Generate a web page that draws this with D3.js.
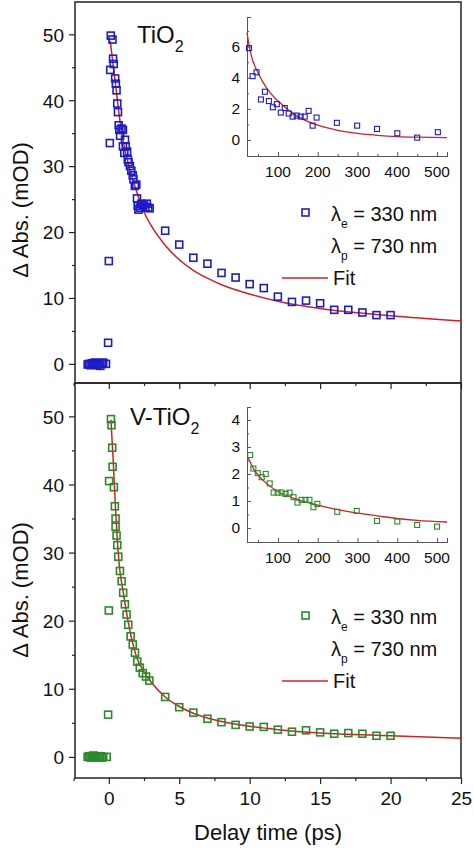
<!DOCTYPE html>
<html>
<head>
<meta charset="utf-8">
<script src="https://cdn.jsdelivr.net/npm/d3@7"></script>
<style>
  body { margin: 0; background: #fff; }
  text { font-family: "Liberation Sans", Arial, sans-serif; fill: #111; }
</style>
</head>
<body>
<div id="chart"></div>
<script>
// ---- data ----
const tioX = [-1.5,-1.4,-1.3,-1.2,-1.1,-1.0,-0.9,-0.8,-0.7,-0.6,-0.5,-0.4,-0.2,-0.05,0,0.07,0.1,0.14,0.26,0.3,0.35,0.45,0.5,0.55,0.6,0.65,0.7,0.75,0.8,0.9,1.0,1.0,1.1,1.15,1.2,1.3,1.35,1.4,1.5,1.6,1.7,1.75,1.85,1.95,2.0,2.05,2.1,2.2,2.3,2.4,2.5,2.6,2.7,2.8,2.9,4,5,6,7,8,9,10,11,12,13,14,15,16,17,18,19,20];
const tioY = [-0.1,0,-0.2,0.1,-0.1,0.2,0,-0.2,0.1,-0.3,0,0.2,0,3.2,15.6,33.5,44.6,49.8,49.2,46.3,45.5,43.3,42.5,41.5,39.5,38.2,36.2,35.5,34.6,35.7,35.5,33.0,32,34,33,32.2,31,30.6,30,29.3,28.6,28,27,27.2,25.1,24,23.4,23.7,24.3,24.0,24.2,23.8,24.3,23.7,23.6,20.2,18.1,16.1,15.2,13.8,13.1,12.1,11.5,10.2,9.4,9.6,9.2,8.2,8.2,7.8,7.4,7.4];
const tioFitX = [0.1,0.3,0.5,0.75,1,1.5,2,2.5,3,4,5,6,7,8,10,12,15,20,25];
const tioFitY = [49,45.5,42,37.5,34,29.5,26,23,21,18,15.8,14.2,13,12,10.6,9.5,8.4,7.3,6.5];

const tioInX = [27,36,46,57,67,77,87,97,107,117,127,137,147,157,167,177,187,197,248,299,349,400,450,502];
const tioInY = [5.9,4.1,4.35,2.6,3.1,2.5,2.1,2.3,1.76,2.05,1.7,1.5,1.57,1.5,1.5,1.87,0.92,1.44,1.1,0.92,0.71,0.43,0.15,0.5];
const tioInFitX = [22,30,50,75,100,150,200,250,300,350,400,450,525];
const tioInFitY = [6.9,5.7,4.3,3.2,2.5,1.5,0.95,0.62,0.42,0.3,0.22,0.18,0.15];

const vX = [-1.5,-1.4,-1.3,-1.2,-1.1,-1.0,-0.9,-0.8,-0.7,-0.6,-0.5,-0.4,-0.15,-0.05,0,0.02,0.15,0.19,0.24,0.27,0.36,0.43,0.48,0.48,0.55,0.6,0.67,0.79,0.91,1.02,1.14,1.26,1.38,1.55,1.7,1.86,2.02,2.2,2.4,2.64,2.88,4,5,6,7,8,9,10,11,12,13,14,15,16,17,18,19,20];
const vY = [0,0.1,-0.1,0,0.2,0,-0.1,0.1,0,0.1,-0.1,0,0,6.2,21.5,40.5,49.6,48.7,45.4,42.6,39.6,36.8,35,33.8,32.5,31.1,29.4,27.3,25.8,24.1,22.4,20.9,19.4,17.7,16.5,15.3,14,13.1,12.3,11.8,11.2,8.8,7.3,6.5,5.6,5.1,4.7,4.46,4.4,4.0,3.7,3.9,3.6,3.4,3.5,3.4,3.1,3.1];
const vFitX = [0.15,0.3,0.5,0.75,1,1.5,2,2.5,3,4,5,6,7,8,10,12,15,20,25];
const vFitY = [49.5,44,35.5,28,24.5,18.5,14.5,12.5,11,8.8,7.4,6.4,5.7,5.2,4.5,4.0,3.5,3.1,2.75];

const vInX = [30,38,49,59,69,79,89,99,109,119,129,139,149,159,169,179,189,199,249,298,349,400,450,500];
const vInY = [2.7,2.2,2.03,1.88,2.0,1.65,1.31,1.31,1.31,1.26,1.31,1.14,0.94,1.04,1.04,1.04,0.77,0.89,0.6,0.63,0.26,0.24,0.11,0.05];
const vInFitX = [25,40,60,100,150,200,250,300,350,400,450,525];
const vInFitY = [2.6,2.15,1.8,1.35,1.05,0.85,0.68,0.55,0.45,0.35,0.28,0.22];

const mainYTicks = [0,10,20,30,40,50];
const mainXTicks = [0,5,10,15,20,25];
const inXTicks = [100,200,300,400,500];
const tioInYTicks = [0,2,4,6];
const vInYTicks = [0,1,2,3,4];

const BLUE = "#1c1cc8", GREEN = "#2a8a2a", RED = "#d0202a";

const svg = d3.select("#chart").append("svg").attr("width", 474).attr("height", 850);
const x = d3.scaleLinear().domain([-2.4, 25]).range([75, 461]);

function panel(y0, y1, yDom, xs, ys, fx, fy, color, label, showX) {
  const y = d3.scaleLinear().domain(yDom).range([y1, y0]);
  const g = svg.append("g");
  g.append("g").attr("transform", "translate(75,0)")
    .call(d3.axisLeft(y).tickValues(mainYTicks).tickSize(6).tickPadding(5))
    .call(a => a.selectAll("text").style("font-size", "19px").attr("dy", "0.36em"));
  g.append("g").attr("transform", "translate(75,0)")
    .call(d3.axisLeft(y).tickValues([5,15,25,35,45]).tickSize(3).tickFormat(""));
  const xa = g.append("g").attr("transform", `translate(0,${y1})`)
    .call(d3.axisBottom(x).tickValues(mainXTicks).tickSize(6).tickPadding(8).tickFormat(showX ? d3.format("d") : ""));
  xa.selectAll("text").style("font-size", "19px");
  g.append("g").attr("transform", `translate(0,${y1})`)
    .call(d3.axisBottom(x).tickValues([-2.5,2.5,7.5,12.5,17.5,22.5]).tickSize(3).tickFormat(""));
  g.selectAll(".domain").remove();
  g.selectAll(".tick line").attr("stroke", "#222").attr("stroke-width", 1.2);
  g.append("rect").attr("x", 75).attr("y", y0).attr("width", 386).attr("height", y1 - y0)
    .attr("fill", "none").attr("stroke", "#222").attr("stroke-width", 1.5);

  g.append("path").datum(d3.zip(fx, fy))
    .attr("d", d3.line().x(d => x(d[0])).y(d => y(d[1])).curve(d3.curveMonotoneX))
    .attr("fill", "none").attr("stroke", RED).attr("stroke-width", 1.5);
  g.selectAll(".pt").data(d3.zip(xs, ys)).join("rect")
    .attr("x", d => x(d[0]) - 3.5).attr("y", d => y(d[1]) - 3.5)
    .attr("width", 7).attr("height", 7)
    .attr("fill", "none").attr("stroke", color).attr("stroke-width", 1.6);

  const t = g.append("text").attr("x", label.x).attr("y", y(50) + 9).style("font-size", "24px").text(label.text);
  t.append("tspan").attr("dy", 9).style("font-size", "16px").text("2");

  // legend
  const ly = label.legY;
  g.append("rect").attr("x", 302).attr("y", ly - 4).attr("width", 7).attr("height", 7)
    .attr("fill", "none").attr("stroke", color).attr("stroke-width", 1.6);
  const l1 = g.append("text").attr("x", 331).attr("y", ly + 8).style("font-size", "20px").text("λ");
  l1.append("tspan").attr("dy", 7).style("font-size", "12px").text("e");
  l1.append("tspan").attr("dy", -7).text(" = 330 nm");
  const l2 = g.append("text").attr("x", 331).attr("y", ly + 40).style("font-size", "20px").text("λ");
  l2.append("tspan").attr("dy", 7).style("font-size", "12px").text("p");
  l2.append("tspan").attr("dy", -7).text(" = 730 nm");
  g.append("line").attr("x1", 282).attr("x2", 328).attr("y1", ly + 65).attr("y2", ly + 65)
    .attr("stroke", RED).attr("stroke-width", 1.5);
  g.append("text").attr("x", 333).attr("y", ly + 72).style("font-size", "20px").text("Fit");
}

function inset(y0, y1, yDom, yTicks, yMinor, xs, ys, fx, fy, color) {
  const ix = d3.scaleLinear().domain([22, 525]).range([247, 447]);
  const iy = d3.scaleLinear().domain(yDom).range([y1, y0]);
  const g = svg.append("g");
  g.append("g").attr("transform", "translate(247,0)")
    .call(d3.axisRight(iy).tickValues(yTicks).tickSize(4).tickFormat(""));
  g.append("g").attr("transform", "translate(247,0)")
    .call(d3.axisRight(iy).tickValues(yMinor).tickSize(2).tickFormat(""));
  yTicks.forEach(v => g.append("text").attr("x", 240).attr("y", iy(v) + 5.5)
    .attr("text-anchor", "end").style("font-size", "15.5px").text(v));
  g.append("g").attr("transform", `translate(0,${y1})`)
    .call(d3.axisTop(ix).tickValues(inXTicks).tickSize(4).tickFormat(""));
  g.append("g").attr("transform", `translate(0,${y1})`)
    .call(d3.axisTop(ix).tickValues([50,150,250,350,450]).tickSize(2).tickFormat(""));
  inXTicks.forEach(v => g.append("text").attr("x", ix(v)).attr("y", y1 + 21)
    .attr("text-anchor", "middle").style("font-size", "15.5px").text(v));
  g.selectAll(".domain").attr("stroke", "#555");
  g.selectAll(".tick line").attr("stroke", "#555");
  g.append("path").datum(d3.zip(fx, fy))
    .attr("d", d3.line().x(d => ix(d[0])).y(d => iy(d[1])).curve(d3.curveMonotoneX))
    .attr("fill", "none").attr("stroke", RED).attr("stroke-width", 1.3);
  g.selectAll(".ip").data(d3.zip(xs, ys)).join("rect")
    .attr("x", d => ix(d[0]) - 2.5).attr("y", d => iy(d[1]) - 2.5)
    .attr("width", 5).attr("height", 5)
    .attr("fill", "none").attr("stroke", color).attr("stroke-width", 1.1);
}

panel(2, 383, [-2.9, 54.9], tioX, tioY, tioFitX, tioFitY, BLUE, { text: "TiO", x: 137, legY: 213 }, false);
panel(383, 778, [-3.1, 54.9], vX, vY, vFitX, vFitY, GREEN, { text: "V-TiO", x: 130, legY: 616 }, true);
inset(17, 156, [-1.03, 7.9], tioInYTicks, [1,3,5,7], tioInX, tioInY, tioInFitX, tioInFitY, BLUE);
inset(407, 542, [-0.52, 4.48], vInYTicks, [0.5,1.5,2.5,3.5], vInX, vInY, vInFitX, vInFitY, GREEN);

svg.append("text").attr("transform", "translate(28,210) rotate(-90)").attr("text-anchor", "middle")
  .style("font-size", "22px").text("Δ Abs. (mOD)");
svg.append("text").attr("transform", "translate(28,590) rotate(-90)").attr("text-anchor", "middle")
  .style("font-size", "22px").text("Δ Abs. (mOD)");
svg.append("text").attr("x", 268).attr("y", 840).attr("text-anchor", "middle")
  .style("font-size", "22px").text("Delay time (ps)");
</script>
</body>
</html>
